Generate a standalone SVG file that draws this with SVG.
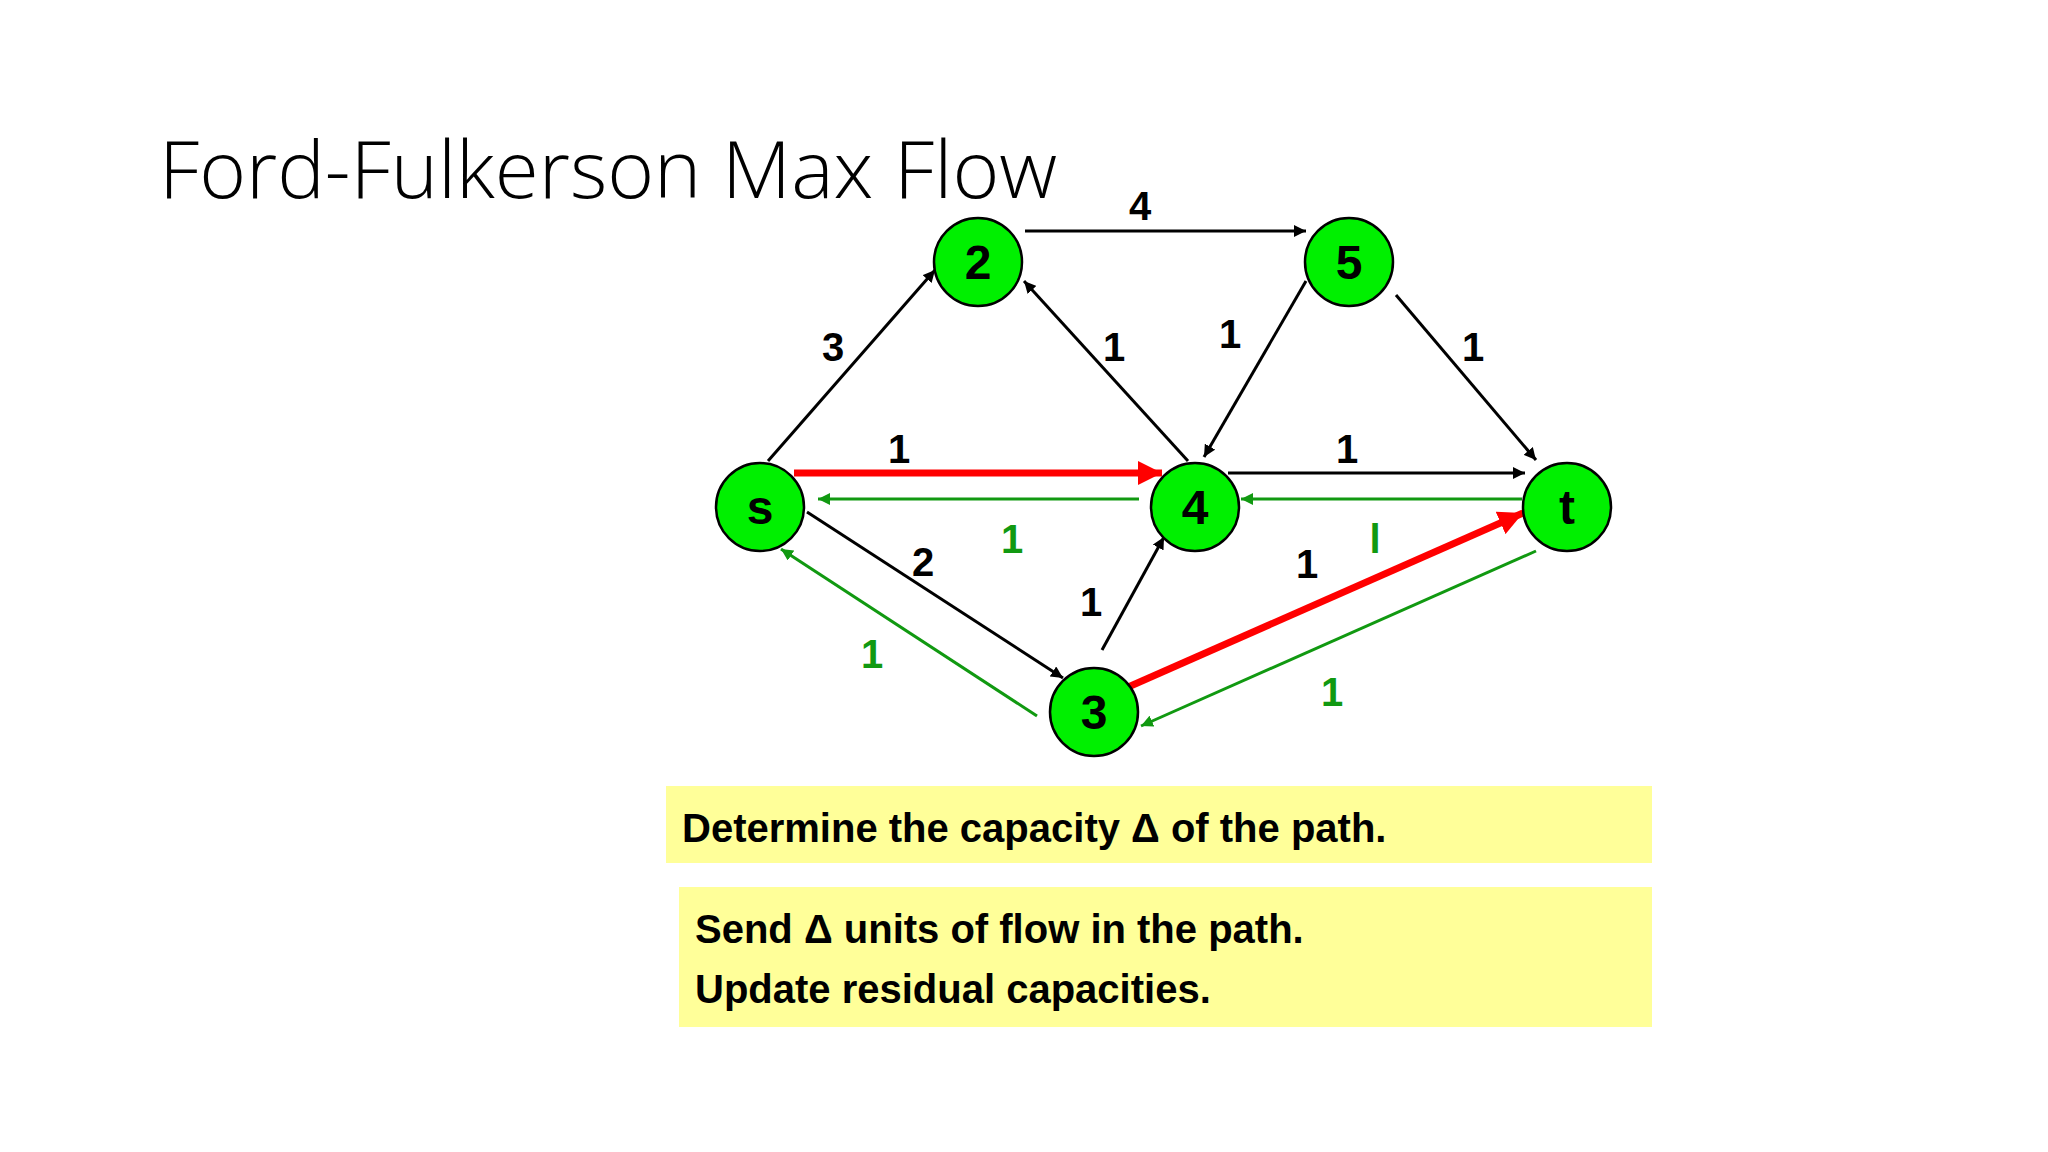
<svg xmlns="http://www.w3.org/2000/svg" width="2048" height="1152" viewBox="0 0 2048 1152">
<style>
.node circle{fill:#00f000;stroke:#000;stroke-width:2.5}
.node text{font-family:"Liberation Sans",Arial,sans-serif;font-weight:bold;font-size:48px;text-anchor:middle;dominant-baseline:central;fill:#000}
.lbl{font-family:"Liberation Sans",Arial,sans-serif;font-weight:bold;font-size:40px;text-anchor:middle;dominant-baseline:central}
.k{stroke:#000;stroke-width:3;fill:none;marker-end:url(#ak)}
.g{stroke:#119911;stroke-width:3;fill:none;marker-end:url(#ag)}
.r{stroke:#ff0000;stroke-width:7;fill:none;marker-end:url(#ar)}
.box{fill:#ffff99}
.bt{font-family:"Liberation Sans",Arial,sans-serif;font-weight:bold;font-size:40px;fill:#000}
</style>
<defs>
<marker id="ak" viewBox="0 0 10 10" refX="10" refY="5" markerWidth="4" markerHeight="4" orient="auto"><path d="M0,0L10,5L0,10z" fill="#000"/></marker>
<marker id="ag" viewBox="0 0 10 10" refX="10" refY="5" markerWidth="4" markerHeight="4" orient="auto"><path d="M0,0L10,5L0,10z" fill="#119911"/></marker>
<marker id="ar" viewBox="0 0 10 10" refX="10" refY="5" markerWidth="3.5" markerHeight="3.5" orient="auto"><path d="M0,0L10,5L0,10z" fill="#ff0000"/></marker>
</defs>
<rect width="2048" height="1152" fill="#fff"/>
<text x="159" y="198" font-family="'Open Sans','Noto Sans',sans-serif" font-weight="300" font-size="80" fill="#000">Ford-Fulkerson Max Flow</text>
<g id="connectors">
<line class="k" x1="1025" y1="231" x2="1306" y2="231"/>
<line class="k" x1="768" y1="461" x2="935" y2="270"/>
<line class="k" x1="1188" y1="461" x2="1024" y2="281"/>
<line class="k" x1="1306" y1="281" x2="1204" y2="457"/>
<line class="k" x1="1396" y1="295" x2="1536" y2="460"/>
<line class="r" x1="794" y1="473" x2="1162" y2="473"/>
<line class="g" x1="1139" y1="499" x2="818" y2="499"/>
<line class="k" x1="1228" y1="473" x2="1525" y2="473"/>
<line class="g" x1="1522" y1="499" x2="1241" y2="499"/>
<line class="k" x1="807" y1="512" x2="1063" y2="678"/>
<line class="g" x1="1037" y1="716" x2="781" y2="549"/>
<line class="k" x1="1102" y1="650" x2="1164" y2="537"/>
<line class="r" x1="1126" y1="688" x2="1523" y2="513"/>
<line class="g" x1="1536" y1="551" x2="1141" y2="726"/>
<text class="lbl" x="1140" y="206">4</text>
<text class="lbl" x="833" y="347">3</text>
<text class="lbl" x="1114" y="347">1</text>
<text class="lbl" x="1230" y="334">1</text>
<text class="lbl" x="1473" y="347">1</text>
<text class="lbl" x="899" y="449">1</text>
<text class="lbl" x="1012" y="539" fill="#119911">1</text>
<text class="lbl" x="1347" y="449">1</text>
<text class="lbl" x="1375" y="539" fill="#119911">l</text>
<text class="lbl" x="923" y="562">2</text>
<text class="lbl" x="872" y="654" fill="#119911">1</text>
<text class="lbl" x="1091" y="602">1</text>
<text class="lbl" x="1307" y="564">1</text>
<text class="lbl" x="1332" y="692" fill="#119911">1</text>
</g>
<g id="n-s" class="node"><circle cx="760" cy="507" r="44"/><text x="760" y="507">s</text></g>
<g id="n-2" class="node"><circle cx="978" cy="262" r="44"/><text x="978" y="262">2</text></g>
<g id="n-5" class="node"><circle cx="1349" cy="262" r="44"/><text x="1349" y="262">5</text></g>
<g id="n-4" class="node"><circle cx="1195" cy="507" r="44"/><text x="1195" y="507">4</text></g>
<g id="n-t" class="node"><circle cx="1567" cy="507" r="44"/><text x="1567" y="507">t</text></g>
<g id="n-3" class="node"><circle cx="1094" cy="712" r="44"/><text x="1094" y="712">3</text></g>
<g id="box1"><rect class="box" x="666" y="786" width="986" height="77"/><text class="bt" x="682" y="842">Determine the capacity Δ of the path.</text></g>
<g id="box2"><rect class="box" x="679" y="887" width="973" height="140"/><text class="bt" x="695" y="943">Send Δ units of flow in the path.</text><text class="bt" x="695" y="1003">Update residual capacities.</text></g>
</svg>
